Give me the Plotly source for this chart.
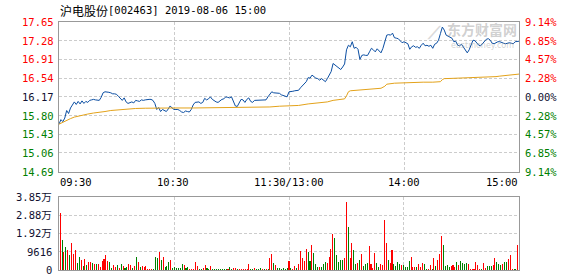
import plotly.graph_objects as go

TITLE_NAME = "沪电股份"
TITLE_REST = "[002463] 2019-08-06 15:00"

# minute-by-minute last price, 09:30 .. 15:00 (241 points)
price = [
    15.63, 15.72, 15.68, 15.75, 15.90, 15.84, 15.95, 16.01, 16.07, 16.02,
    16.08, 16.03, 16.09, 16.04, 16.08, 16.06, 16.10, 16.11, 16.12, 16.11,
    16.10, 16.10, 16.16, 16.25, 16.27, 16.27, 16.26, 16.25, 16.23, 16.23,
    16.22, 16.18, 16.13, 16.10, 16.15, 16.07, 16.04, 16.06, 16.07, 16.05,
    16.10, 16.09, 16.08, 16.11, 16.10, 16.11, 16.12, 16.12, 16.12, 16.10,
    16.04, 15.92, 15.96, 15.88, 15.92, 15.90, 15.88, 15.93, 15.99, 15.95,
    15.92, 15.92, 15.92, 15.90, 15.87, 15.86, 15.89, 15.88, 15.87, 15.92,
    16.01, 16.06, 16.07, 16.07, 16.04, 16.06, 16.14, 16.11, 16.13, 16.17,
    16.12, 16.09, 16.07, 16.06, 16.09, 16.12, 16.13, 16.17, 16.16, 16.15,
    16.17, 16.06, 15.99, 15.98, 16.04, 16.12, 16.11, 16.06, 16.12, 16.15,
    16.08, 16.06, 16.10, 16.10, 16.10, 16.10, 16.10, 16.10, 16.11, 16.17,
    16.23, 16.27, 16.25, 16.25, 16.25, 16.24, 16.21, 16.20, 16.18, 16.17,
    16.27, 16.27, 16.28, 16.29, 16.29, 16.30, 16.35, 16.39, 16.44, 16.47,
    16.55, 16.54, 16.60, 16.56, 16.54, 16.53, 16.50, 16.53, 16.50, 16.47,
    16.53, 16.60, 16.67, 16.83, 16.80, 16.78, 16.75, 16.71, 16.76, 16.82,
    17.10, 17.19, 17.16, 17.26, 17.13, 17.15, 17.11, 16.91, 16.99, 17.00,
    16.99, 16.99, 17.06, 17.13, 17.10, 17.06, 17.12, 17.08, 17.04, 17.13,
    17.29, 17.39, 17.40, 17.39, 17.43, 17.34, 17.33, 17.32, 17.28, 17.24,
    17.26, 17.24, 17.22, 17.11, 17.16, 17.18, 17.15, 17.16, 17.13, 17.19,
    17.23, 17.18, 17.19, 17.17, 17.19, 17.13, 17.21, 17.23, 17.29, 17.42,
    17.55, 17.49, 17.39, 17.37, 17.35, 17.33, 17.26, 17.27, 17.19, 17.18,
    17.21, 17.16, 17.09, 17.04, 17.10, 17.18, 17.29, 17.28, 17.23, 17.19,
    17.18, 17.23, 17.28, 17.31, 17.32, 17.29, 17.23, 17.22, 17.24, 17.26,
    17.26, 17.24, 17.23, 17.22, 17.23, 17.24, 17.23, 17.22, 17.26, 17.26,
    17.27,
]

# average-price line, read at these minutes
avg_minutes = [0, 2, 4, 6, 8, 10, 12, 15, 18, 21, 24, 27, 30, 33, 36, 40, 45, 50, 55, 60,
               70, 80, 90, 100, 110, 115, 120, 125, 130, 135, 140, 143, 146, 149, 150, 151,
               152, 155, 160, 165, 168, 170, 171, 175, 180, 185, 190, 195, 199, 200, 201,
               205, 210, 215, 220, 225, 228, 230, 235, 240]
avg_values = [15.63, 15.67, 15.71, 15.74, 15.77, 15.79, 15.81, 15.83, 15.85, 15.86,
              15.88, 15.90, 15.91, 15.92, 15.93, 15.94, 15.945, 15.95, 15.95, 15.95,
              15.95, 15.955, 15.96, 15.96, 15.97, 15.985, 15.99, 16.00, 16.03, 16.05,
              16.07, 16.10, 16.12, 16.13, 16.19, 16.27, 16.29, 16.30, 16.31, 16.33,
              16.34, 16.38, 16.42, 16.44, 16.45, 16.45, 16.46, 16.46, 16.47, 16.51,
              16.53, 16.535, 16.54, 16.545, 16.55, 16.555, 16.57, 16.58, 16.60, 16.62]

# minute volume, 241 bars
volume = [
    29700, 15700, 9260, 12060, 10490, 7870, 14330, 8220, 10490, 3500,
    6820, 5240, 2270, 5770, 2620, 4200, 4200, 3670, 3150, 3150,
    2970, 1750, 4720, 5770, 7870, 4720, 4370, 1220, 2620, 1750,
    2620, 870, 3150, 2100, 870, 1570, 3150, 2620, 1220, 2270,
    6820, 4020, 1750, 2270, 1750, 2270, 520, 520, 520, 520,
    6820, 6470, 9610, 5240, 6990, 1750, 2270, 4370, 5240, 1220,
    1750, 1220, 1220, 870, 2970, 2620, 1220, 1750, 520, 520,
    520, 4370, 2270, 520, 520, 1220, 2620, 1220, 520, 2270,
    520, 520, 520, 520, 520, 520, 520, 520, 520, 1570,
    520, 1050, 1050, 520, 520, 520, 520, 520, 520, 3150,
    520, 520, 870, 520, 520, 870, 520, 520, 520, 520,
    6470, 8390, 3850, 2620, 870, 1220, 520, 870, 520, 870,
    4720, 870, 520, 2100, 870, 3150, 10140, 6120, 4720, 11010,
    9610, 4720, 12940, 8920, 3150, 1750, 1750, 1750, 3150, 4370,
    3670, 6990, 11010, 18880, 16960, 7870, 4020, 5240, 5240, 6470,
    35660, 22550, 6470, 14160, 10490, 3150, 3670, 5070, 8390, 2270,
    3150, 3670, 12590, 3150, 1220, 8920, 3850, 1750, 3150, 2620,
    26220, 14160, 5240, 3500, 10490, 3150, 2270, 4200, 3150, 2620,
    2620, 1570, 1570, 4720, 6820, 1570, 1570, 1570, 3150, 1570,
    3670, 2970, 520, 520, 2620, 520, 6290, 2100, 5240, 8390,
    17830, 13110, 2100, 2620, 1570, 2100, 2620, 1570, 4200, 2620,
    4720, 3670, 3320, 3670, 3150, 520, 520, 520, 4020, 2620,
    520, 520, 3670, 1220, 2100, 2100, 2100, 2620, 6290, 4200,
    3150, 2620, 3150, 4200, 4200, 5770, 7870, 520, 300, 300,
    13110,
]
# bar direction per minute: r = up (red), g = down (green)
vol_dir = ("rgrgrgrrrg" "grgrgrrgrg" "rrrrrrggrr" "grgrggrrgr" "grgrrrrrrg"
           "ggrgrgggrg" "gggggrggrr" "rrrggrrggr" "ggggggggrg" "grrgrrrrrr"
           "ggrgggrgrg" "rrgrgggggg" "rgrrgrrrrr" "ggrgggrggg" "rrrrgggggr"
           "rgrrggrgrg" "ggrrrrggrr" "rrgrrggggr" "ggggrrrgrr" "rggrrgrgrr"
           "rggggrrrgr" "ggggrrrrrr" "rgrrgggrrg" "ggrggrrrgg" "r")

price_ticks = [17.65, 17.28, 16.91, 16.54, 16.17, 15.80, 15.43, 15.06, 14.69]
pct_labels = ["9.14%", "6.85%", "4.57%", "2.28%", "0.00%", "2.28%", "4.57%", "6.85%", "9.14%"]
vol_ticks = [38464, 28848, 19232, 9616, 0]
vol_labels = ["3.85万", "2.88万", "1.92万", "9616", "0"]
time_ticks = [0, 60, 120, 180, 240]
time_labels = ["09:30", "10:30", "11:30/13:00", "14:00", "15:00"]
PREV_CLOSE = 16.17

# ---------------- layout geometry ----------------
W, H = 578, 276
L, R, T, B = 59, 59, 22, 6
PW, PH = W - L - R, H - T - B


def px_x(px):
    return (px - L) / PW


def px_y(py):
    return (H - B - py) / PH


RED, GREEN, DARK = "#FF0000", "#008000", "#101030"
MONO = "DejaVu Sans Mono, Liberation Mono, monospace"
GRID = "#CCCCCC"
BORDER = "#999999"

minutes = list(range(len(price)))

fig = go.Figure()
fig.add_trace(go.Scatter(x=minutes, y=price, mode="lines",
                         line=dict(color="#0B4EA2", width=1), xaxis="x", yaxis="y",
                         hoverinfo="skip"))
fig.add_trace(go.Scatter(x=avg_minutes, y=avg_values, mode="lines",
                         line=dict(color="#E3A21A", width=1), xaxis="x", yaxis="y",
                         hoverinfo="skip"))
fig.add_trace(go.Bar(x=minutes, y=volume, width=0.55,
                     marker=dict(color=[RED if d == "r" else GREEN for d in vol_dir],
                                 line=dict(width=0)),
                     xaxis="x2", yaxis="y2", hoverinfo="skip"))

axis_common = dict(showgrid=True, gridcolor=GRID, griddash="3px,2px", gridwidth=1,
                   showline=True, mirror=True, linecolor=BORDER, linewidth=1,
                   zeroline=False, showticklabels=False, ticks="", fixedrange=True)

main_bottom = px_y(171.7)
vol_top = px_y(196.7)

fig.update_layout(
    width=W, height=H,
    margin=dict(l=L, r=R, t=T, b=B, pad=0),
    paper_bgcolor="white", plot_bgcolor="white",
    showlegend=False, bargap=0,
    xaxis=dict(domain=[0, 1], anchor="y", range=[0, 240], tickvals=time_ticks[1:-1], **axis_common),
    yaxis=dict(domain=[main_bottom, 1], anchor="x",
               range=[min(price_ticks), max(price_ticks)], tickvals=price_ticks, **axis_common),
    xaxis2=dict(domain=[0, 1], anchor="y2", range=[-0.6, 240.6], tickvals=time_ticks[1:-1], **axis_common),
    yaxis2=dict(domain=[0, vol_top], anchor="x2", range=[0, max(vol_ticks)],
                tickvals=vol_ticks, **axis_common),
)

ann = []
for v in price_ticks:
    col = RED if v > PREV_CLOSE + 1e-9 else (GREEN if v < PREV_CLOSE - 1e-9 else DARK)
    ann.append(dict(x=px_x(56), y=v, xref="paper", yref="y", text=f"{v:.2f}",
                    xanchor="right", yanchor="middle", showarrow=False,
                    font=dict(family=MONO, size=10.5, color=col)))
for v, lab in zip(price_ticks, pct_labels):
    col = RED if v > PREV_CLOSE + 1e-9 else (GREEN if v < PREV_CLOSE - 1e-9 else DARK)
    ann.append(dict(x=px_x(523), y=v, xref="paper", yref="y", text=lab,
                    xanchor="left", yanchor="middle", showarrow=False,
                    font=dict(family=MONO, size=10.5, color=col)))
for v, lab in zip(vol_ticks, vol_labels):
    ann.append(dict(x=px_x(54), y=v, xref="paper", yref="y2", text=lab,
                    xanchor="right", yanchor="middle", showarrow=False,
                    font=dict(family=MONO + ", Noto Sans CJK SC", size=10.5, color=DARK)))
for i, (t, lab) in enumerate(zip(time_ticks, time_labels)):
    anchor = "left" if i == 0 else ("right" if i == len(time_ticks) - 1 else "center")
    xpos = px_x(58 + t * (461.0 / 240.0))
    if i == len(time_ticks) - 1:
        xpos = px_x(520)
    ann.append(dict(x=xpos, y=px_y(182), xref="paper", yref="paper", text=lab,
                    xanchor=anchor, yanchor="middle", showarrow=False,
                    font=dict(family=MONO, size=10.5, color="#000000")))
# title
ann.append(dict(x=px_x(58), y=px_y(10), xref="paper", yref="paper", text=TITLE_NAME,
                xanchor="left", yanchor="middle", showarrow=False,
                font=dict(family="Noto Sans CJK SC", size=12, color="#000000")))
ann.append(dict(x=px_x(106), y=px_y(10), xref="paper", yref="paper", text=TITLE_REST,
                xanchor="left", yanchor="middle", showarrow=False,
                font=dict(family=MONO, size=10.5, color="#000000")))
# watermark
ann.append(dict(x=px_x(482), y=px_y(29), xref="paper", yref="paper", text="<b>东方财富网</b>",
                xanchor="center", yanchor="middle", showarrow=False,
                font=dict(family="Noto Sans CJK SC", size=14, color="rgba(150,150,150,0.45)")))
ann.append(dict(x=px_x(482), y=px_y(45), xref="paper", yref="paper", text="eastmoney.com",
                xanchor="center", yanchor="middle", showarrow=False,
                font=dict(family="DejaVu Sans", size=8, color="rgba(150,150,150,0.45)")))
ann.append(dict(x=px_x(434), y=px_y(33), xref="paper", yref="paper", text="<b>⟋</b>",
                xanchor="center", yanchor="middle", showarrow=False,
                font=dict(family="DejaVu Sans", size=18, color="rgba(150,150,150,0.35)")))
fig.update_layout(annotations=ann)

fig.write_html("out.html", config={"displayModeBar": False, "staticPlot": True})
